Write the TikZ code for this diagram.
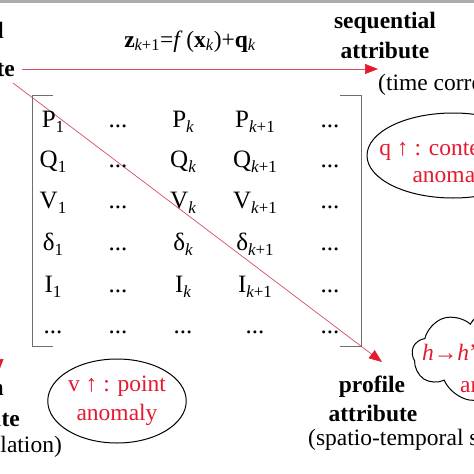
\documentclass[tikz,border=0pt]{standalone}
\usepackage{fontspec}
\setmainfont{Liberation Serif}
\usetikzlibrary{arrows.meta,shapes.geometric,shapes.symbols}
\definecolor{anored}{RGB}{228,26,48}
\definecolor{linered}{RGB}{210,80,95}
\definecolor{brgray}{RGB}{110,110,110}
\newcommand{\ix}[1]{\raisebox{-0.2em}{\fontsize{17}{17}\selectfont #1}}
\newcommand{\ik}{\ix{\itshape k}}
\newcommand{\ikk}{\ix{\itshape k\upshape+1}}

\begin{document}
\begin{tikzpicture}[x=1pt,y=-1pt,
  every node/.style={inner sep=0pt,font=\fontsize{23.5}{29}\selectfont},
  bold/.style={font=\fontsize{23.5}{29}\selectfont\bfseries},
  entry/.style={anchor=base,font=\fontsize{25}{29}\selectfont},
  ano/.style={text=anored},
  redarrow/.style={draw=linered,line width=0.7pt,-{Triangle[length=13pt,width=10pt,color=anored]}}]
\useasboundingbox (0,0) rectangle (474,474);
\clip (0,0) rectangle (474,474);
\fill[gray!65] (0,0) rectangle (474,2.5);
\node[bold,anchor=base east] (tlA) at (4,38) {combined};
\node[bold,anchor=base east] (tlB) at (15,76) {attribute};
\node[anchor=base] (eq) at (190,47) {\textbf{z}\textsubscript{\itshape k\upshape+1}=\textit{f}\,(\textbf{x}\textsubscript{\itshape k})+\textbf{q}\textsubscript{\itshape k}};
\node[bold,anchor=base] (seqA) at (385,28) {sequential};
\node[bold,anchor=base] (seqB) at (385,58) {attribute};
\node[anchor=base west] (seqC) at (378,90) {(time correlation)};
\node[bold,anchor=base east] (blA) at (4,395) {cross-section};
\node[bold,anchor=base east] (blB) at (20,426) {attribute};
\node[anchor=base east] (blC) at (62,452) {(spatial correlation)};
\node[bold,anchor=base] (prA) at (372,392) {profile};
\node[bold,anchor=base] (prB) at (373,421) {attribute};
\node[anchor=base west] (prC) at (308,445) {(spatio-temporal similarity)};
\coordinate (seqStart) at (22,69);
\coordinate (seqTip) at (378,69);
\coordinate (prStart) at (13,83);
\coordinate (prTip) at (382,362);
\coordinate (blStart) at (-1.5,90);
\coordinate (blTip) at (-1.5,372);
\draw[redarrow] (seqStart) -- (seqTip);
\draw[redarrow] (prStart) -- (prTip);
\draw[redarrow] (blStart) -- (blTip);
\draw[brgray,line width=0.9pt] (53,95) -| (32,346) -- (53,346);
\draw[brgray,line width=0.9pt] (340,95) -| (361,346) -- (340,346);
\node[entry] (P1) at (53,127) {P\ix{1}};
\node[entry] (Pd) at (118,127) {...};
\node[entry] (Pk) at (183,127) {P\ik};
\node[entry] (Pk1) at (255,127) {P\ikk};
\node[entry] (Pe) at (330,127) {...};
\node[entry] (Q1) at (53,167) {Q\ix{1}};
\node[entry] (Qd) at (118,167) {...};
\node[entry] (Qk) at (183,167) {Q\ik};
\node[entry] (Qk1) at (255,167) {Q\ikk};
\node[entry] (Qe) at (330,167) {...};
\node[entry] (V1) at (53,208) {V\ix{1}};
\node[entry] (Vd) at (118,208) {...};
\node[entry] (Vk) at (183,208) {V\ik};
\node[entry] (Vk1) at (255,208) {V\ikk};
\node[entry] (Ve) at (330,208) {...};
\node[entry] (D1) at (53,250) {δ\ix{1}};
\node[entry] (Dd) at (118,250) {...};
\node[entry] (Dk) at (183,250) {δ\ik};
\node[entry] (Dk1) at (255,250) {δ\ikk};
\node[entry] (De) at (330,250) {...};
\node[entry] (I1) at (53,292) {I\ix{1}};
\node[entry] (Id) at (118,292) {...};
\node[entry] (Ik) at (183,292) {I\ik};
\node[entry] (Ik1) at (255,292) {I\ikk};
\node[entry] (Ie) at (330,292) {...};
\node[entry] (X1) at (53,333) {...};
\node[entry] (Xd) at (118,333) {...};
\node[entry] (Xk) at (183,333) {...};
\node[entry] (Xk1) at (255,333) {...};
\node[entry] (Xe) at (330,333) {...};
\node[ellipse,draw,line width=1pt,minimum width=131pt,minimum height=84pt,ano,align=center] (pointAno) at (117,401) {v ↑ : point\\anomaly};
\node[ellipse,draw,line width=1pt,minimum width=172pt,minimum height=85pt] (ctxShape) at (453,155.5) {};
\node[ano,anchor=base] (ctxA) at (453,155) {q ↑ : contextual};
\node[ano,anchor=base] (ctxB) at (453,182) {anomaly};
\node[cloud,draw,line width=1pt,cloud puffs=9,cloud puff arc=120,cloud ignores aspect,minimum width=176pt,minimum height=96pt] (colShape) at (500,355) {};
\node[ano,anchor=base west] (colA) at (422,360) {\textit{h}→\textit{h}' : collective};
\node[ano,anchor=base west] (colB) at (460,392) {anomaly};
\end{tikzpicture}
\end{document}
